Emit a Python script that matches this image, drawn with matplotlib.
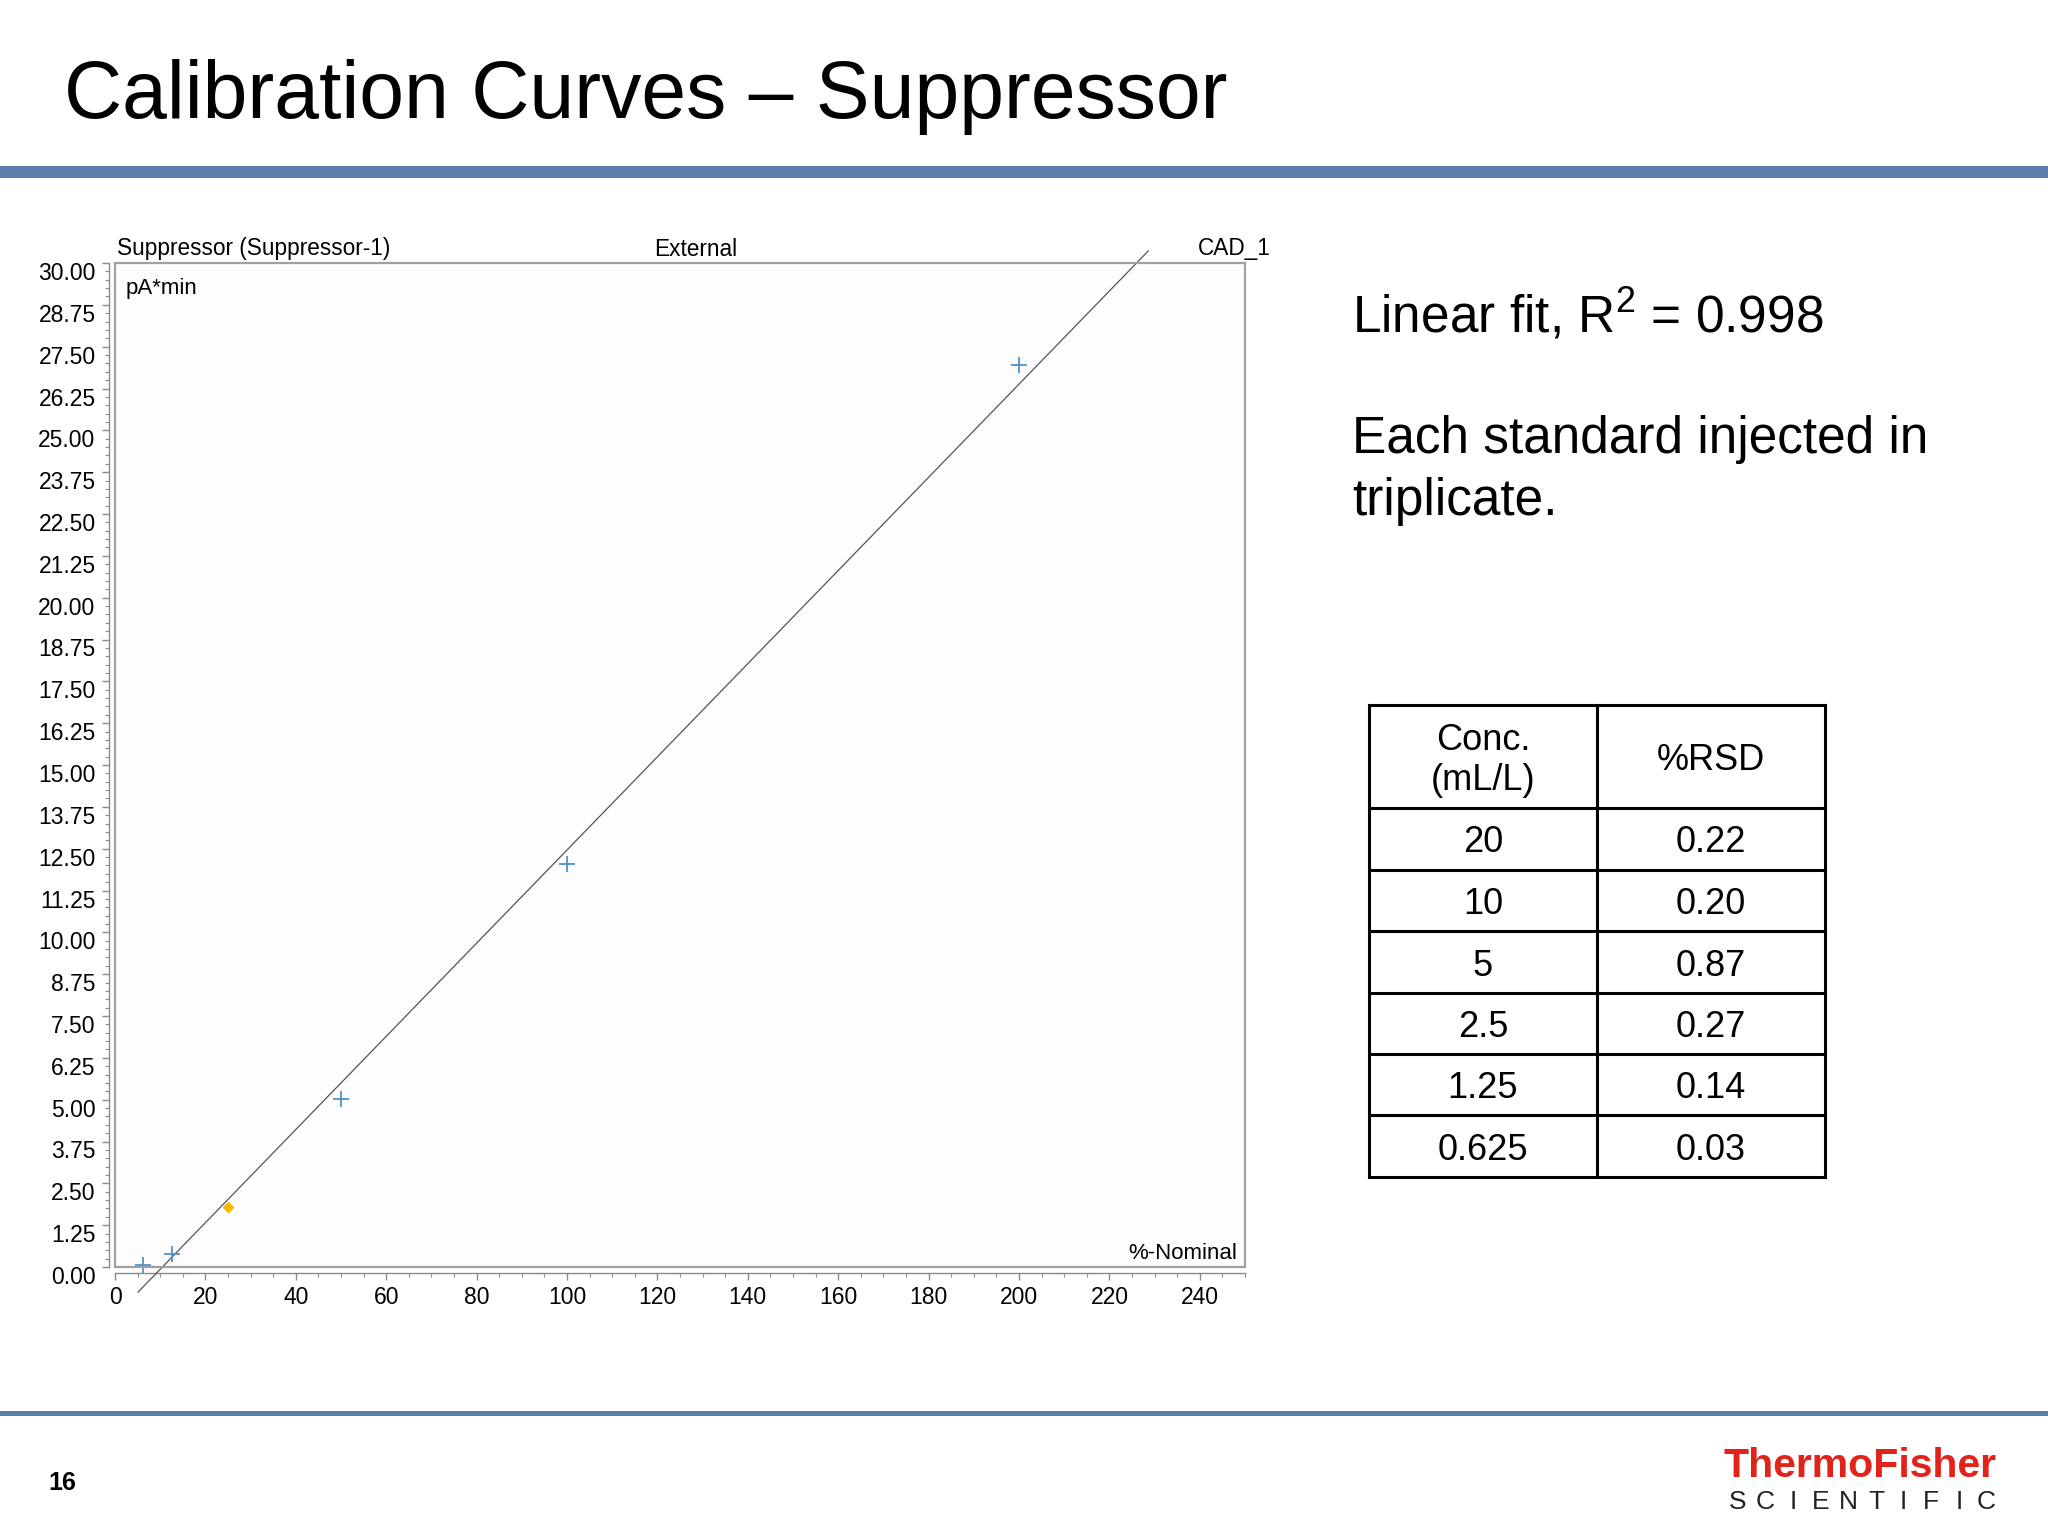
import matplotlib
matplotlib.use("Agg")
import matplotlib.pyplot as plt
from matplotlib.ticker import MultipleLocator, FormatStrFormatter
from matplotlib.patches import Rectangle
from matplotlib.lines import Line2D
from matplotlib.transforms import ScaledTranslation
import numpy as np

plt.rcParams['font.family'] = ['Liberation Sans', 'DejaVu Sans']
plt.rcParams['mathtext.fontset'] = 'custom'
plt.rcParams['mathtext.rm'] = 'Liberation Sans'
plt.rcParams['mathtext.default'] = 'regular'

# ---------------- data ----------------
title = "Calibration Curves \u2013 Suppressor"
nominal_pct = [6.25, 12.5, 25, 50, 100, 200]
peak_area = [0.05, 0.38, 1.80, 5.03, 12.05, 26.95]
highlight_index = 2
fit_slope = 0.1392
fit_intercept = -1.46
fit_x_range = [5.1, 228.6]
x_ticks = list(range(0, 241, 20))
y_ticks = [i * 1.25 for i in range(25)]

table_header = ["Conc.\n(mL/L)", "%RSD"]
table_conc = ["20", "10", "5", "2.5", "1.25", "0.625"]
table_rsd = ["0.22", "0.20", "0.87", "0.27", "0.14", "0.03"]

W, H = 2048, 1536
fig = plt.figure(figsize=(W / 100, H / 100), dpi=100)
fig.patch.set_facecolor('white')

def fx(x):
    return x / W

def fy(y):
    return 1 - y / H

# ---------------- slide decorations ----------------
bar_color = '#5a7eab'
fig.add_artist(Rectangle((0, fy(178)), 1, 12 / H, transform=fig.transFigure,
                         color=bar_color, lw=0))
fig.add_artist(Rectangle((0, fy(1416)), 1, 5 / H, transform=fig.transFigure,
                         color=bar_color, lw=0))
fig.text(fx(64), fy(118), title, fontsize=58, ha='left', va='baseline', color='black')
fig.text(fx(48), fy(1483), "16", fontsize=18, fontweight='bold', ha='left', va='center')

# logo
fig.text(fx(1724), fy(1466), "ThermoFisher", fontsize=29.5, fontweight='bold',
         color='#e2231a', ha='left', va='center',
         family=['Liberation Sans Narrow', 'Liberation Sans', 'DejaVu Sans'])
letters = "SCIENTIFIC"
for i, ch in enumerate(letters):
    fig.text(fx(1738 + i * 27.6), fy(1502), ch, fontsize=19, color='#222222',
             ha='center', va='center')

# ---------------- chart ----------------
L, R, T, B = 115, 1245, 263, 1267
ax = fig.add_axes([fx(L), fy(B), (R - L) / W, (B - T) / H])
ax.set_xlim(0, 250)
ax.set_ylim(0, 30)
ax.set_facecolor('#fdfcfe')

for s in ['top', 'right']:
    ax.spines[s].set_visible(False)
for s in ['left', 'bottom']:
    ax.spines[s].set_position(('outward', 4))
    ax.spines[s].set_color('#8a8a8a')
    ax.spines[s].set_linewidth(1.0)
ax.spines['left'].set_bounds(0, 30)
ax.spines['bottom'].set_bounds(0, 250)
ax.add_patch(Rectangle((0, 0), 1, 1, transform=ax.transAxes, fill=False,
                       ec='#a0a0a0', lw=1.6, clip_on=False, zorder=5))

ax.set_xticks(x_ticks)
ax.set_yticks(y_ticks)
ax.xaxis.set_minor_locator(MultipleLocator(5))
ax.yaxis.set_minor_locator(MultipleLocator(0.25))
ax.yaxis.set_major_formatter(FormatStrFormatter('%.2f'))
ax.tick_params(axis='both', which='major', length=5, width=1, color='#8a8a8a',
               labelsize=16.5, pad=5)
ax.tick_params(axis='both', which='minor', length=3, width=0.8, color='#8a8a8a')
shift = ScaledTranslation(0, -8 / 100, fig.dpi_scale_trans)
for lab in ax.get_yticklabels():
    lab.set_transform(lab.get_transform() + shift)

xf = np.array(fit_x_range)
ax.plot(xf, fit_slope * xf + fit_intercept, color='#555555', lw=0.9,
        clip_on=False, zorder=3)

xs = [x for i, x in enumerate(nominal_pct) if i != highlight_index]
ys = [y for i, y in enumerate(peak_area) if i != highlight_index]
ax.plot(xs, ys, linestyle='none', marker='+', markersize=11, mew=1.3,
        color='#4d93c8', zorder=4, clip_on=False)
ax.plot([nominal_pct[highlight_index]], [peak_area[highlight_index]],
        linestyle='none', marker='D', markersize=5, color='#f5b800',
        mec='#f5b800', zorder=4)

ax.text(0.009, 0.985, "pA*min", transform=ax.transAxes, fontsize=16,
        ha='left', va='top')
ax.text(0.993, 0.013, "%-Nominal", transform=ax.transAxes, fontsize=16,
        ha='right', va='center')

fig.text(fx(117), fy(249), "Suppressor (Suppressor-1)", fontsize=16.3,
         ha='left', va='center')
fig.text(fx(696), fy(249), "External", fontsize=16.3, ha='center', va='center')
fig.text(fx(1271), fy(249), "CAD_1", fontsize=16.3, ha='right', va='center')

# ---------------- right text ----------------
fig.text(fx(1352), fy(316), "Linear fit, R$^{2}$ = 0.998", fontsize=37,
         ha='left', va='center')
fig.text(fx(1352), fy(440), "Each standard injected in", fontsize=37,
         ha='left', va='center')
fig.text(fx(1352), fy(501), "triplicate.", fontsize=37, ha='left', va='center')

# ---------------- table ----------------
tx = [1369, 1597, 1825]
ty = [705, 808, 870, 931, 993, 1054, 1115, 1177]
lw_t = 2.2
for x in tx:
    fig.add_artist(Line2D([fx(x), fx(x)], [fy(ty[0]), fy(ty[-1])],
                          transform=fig.transFigure, color='black', lw=lw_t))
for y in ty:
    fig.add_artist(Line2D([fx(tx[0]), fx(tx[-1])], [fy(y), fy(y)],
                          transform=fig.transFigure, color='black', lw=lw_t))
cx = [(tx[0] + tx[1]) / 2, (tx[1] + tx[2]) / 2]
for j, h in enumerate(table_header):
    fig.text(fx(cx[j]), fy((ty[0] + ty[1]) / 2 + 4), h, fontsize=26, ha='center',
             va='center', linespacing=1.2)
for i, (c, r) in enumerate(zip(table_conc, table_rsd)):
    yc = (ty[i + 1] + ty[i + 2]) / 2 + 4
    fig.text(fx(cx[0]), fy(yc), c, fontsize=26, ha='center', va='center')
    fig.text(fx(cx[1]), fy(yc), r, fontsize=26, ha='center', va='center')

fig.savefig("out.png", dpi=100, facecolor='white')
